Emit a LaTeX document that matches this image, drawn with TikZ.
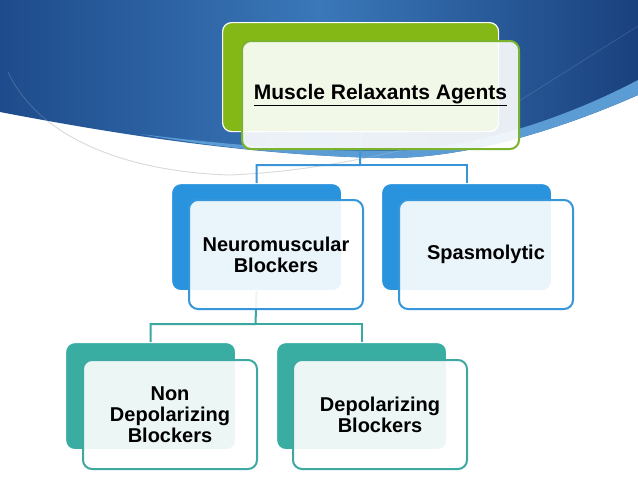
\documentclass[tikz,border=0pt]{standalone}
\usepackage{fontspec}
\setmainfont{Liberation Sans}
\definecolor{navyL}{HTML}{1E4B8B}
\definecolor{navyM}{HTML}{3A78B9}
\definecolor{navyR}{HTML}{1A417E}
\definecolor{bandc}{HTML}{5B9CD4}
\definecolor{arcc}{HTML}{D6D9DD}
\definecolor{gback}{HTML}{84B816}
\definecolor{gline}{HTML}{7BB22E}
\definecolor{bback}{HTML}{2A93DE}
\definecolor{bline}{HTML}{3596DA}
\definecolor{tback}{HTML}{3AADA3}
\definecolor{tline}{HTML}{3DA9A1}
\definecolor{bconnc}{HTML}{3A94D8}
\definecolor{tconnc}{HTML}{3AA7A0}
\begin{document}
\begin{tikzpicture}[x=1pt,y=-1pt,
  backbox/.style={rounded corners=9pt, draw=white, line width=1.2pt, inner sep=0pt, anchor=north west, minimum width=170pt, minimum height=107pt},
  frontbox/.style={rounded corners=9pt, line width=2pt, fill=white, fill opacity=0.9, draw opacity=1, text opacity=1, inner sep=0pt, anchor=north west, minimum width=174pt, minimum height=109pt, align=center, font=\bfseries\fontsize{20}{21}\selectfont},
  bconn/.style={draw=bconnc, line width=2pt},
  tconn/.style={draw=tconnc, line width=2pt}]
\useasboundingbox (0,0) rectangle (638,479);
\fill[white] (0,0) rectangle (638,479);
\def\arcpath{(8,72) .. controls (40,140) and (130,172) .. (230,175)
  .. controls (300,172) and (360,160) .. (420,146)}
\def\swooshpath{(0,0) -- (638,0) -- (638,95) .. controls (570,125) and (470,160) .. (380,158)
  .. controls (250,155) and (120,135) .. (0,112) -- cycle}
% background swoosh
\draw[arcc, line width=0.9pt] \arcpath;
\shade[left color=navyL, right color=navyR, middle color=navyM] \swooshpath;
\fill[bandc] (638,95) .. controls (570,125) and (470,160) .. (380,158)
  .. controls (300,156) and (220,148) .. (140,134)
  .. controls (220,144) and (300,151) .. (380,151)
  .. controls (470,152) and (570,116) .. (638,80) -- cycle;
\begin{scope}
\clip \swooshpath;
\draw[white, opacity=0.18, line width=0.8pt] \arcpath;
\draw[white, opacity=0.12, line width=0.8pt] (470,132) -- (638,26);
\end{scope}
% nodes (back)
\node[backbox, fill=gback, minimum width=276pt, minimum height=109pt] (g0) at (222,22) {};
\node[backbox, fill=bback] (n0) at (171,183) {};
\node[backbox, fill=bback] (s0) at (381,183) {};
\node[backbox, fill=tback] (a0) at (65,342) {};
\node[backbox, fill=tback] (d0) at (276,342) {};
% connectors
\coordinate (bus1) at (360,165);
\coordinate (bus2) at (255.5,324);
\draw[bconn] (g0.south) -- (bus1) -| (n0.north);
\draw[bconn] (bus1) -| (s0.north);
\draw[tconn] (n0.south) -- (bus2) -| (a0.north);
\draw[tconn] (bus2) -| (d0.north);
% front boxes
\node[frontbox, draw=gline, minimum width=277pt, minimum height=108pt, font=\bfseries\fontsize{21}{22}\selectfont] (g1) at (241,40) {\underline{Muscle Relaxants Agents}};
\node[frontbox, draw=bline] (n1) at (188,199) {Neuromuscular\\Blockers};
\node[frontbox, draw=bline] (s1) at (398,199) {Spasmolytic};
\node[frontbox, draw=tline] (a1) at (82,359) {Non\\Depolarizing\\Blockers};
\node[frontbox, draw=tline] (d1) at (292,359) {Depolarizing\\Blockers};
\end{tikzpicture}
\end{document}
